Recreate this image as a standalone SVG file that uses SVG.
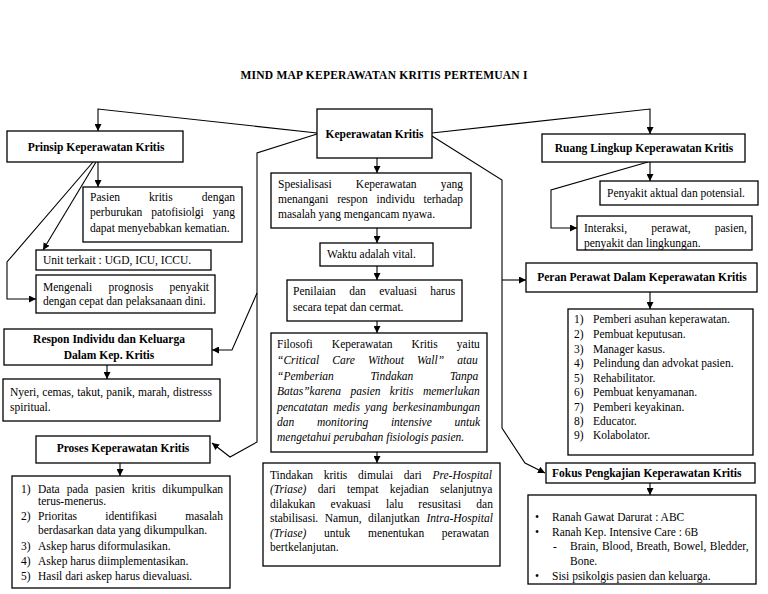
<svg xmlns="http://www.w3.org/2000/svg" width="768" height="594" viewBox="0 0 768 594">
<defs>
<style>
.box{fill:#fff;stroke:#000;stroke-width:1.3}
.c{fill:none;stroke:#000;stroke-width:1.1}
text{font-family:"Liberation Serif","Times New Roman",serif;font-size:11.5px;fill:#000}
.b{font-weight:bold}
.i{font-style:italic}
.m{text-anchor:middle}
</style>
<marker id="ah" viewBox="0 0 8 8" refX="8" refY="4" markerWidth="7" markerHeight="7" markerUnits="userSpaceOnUse" orient="auto">
<path d="M0,0 L8,4 L0,8 z" fill="#000"/>
</marker>
</defs>
<rect width="768" height="594" fill="#fff"/>
<text class="b m" x="384" y="79" textLength="287">MIND MAP KEPERAWATAN KRITIS PERTEMUAN I</text>

<g id="connectors">
<path class="c" d="M317,133 L98,109 L98,131" marker-end="url(#ah)"/>
<path class="c" d="M98,162 L98,187" marker-end="url(#ah)"/>
<path class="c" d="M96,162 L43,250" marker-end="url(#ah)"/>
<path class="c" d="M93,162 L7,262 L7,299 L36,299" marker-end="url(#ah)"/>
<path class="c" d="M317,134 L257,153 L257,442 L230,457 L212,443" marker-end="url(#ah)"/>
<path class="c" d="M257,293 L232,350 L212,350" marker-end="url(#ah)"/>
<path class="c" d="M107,365 L107,379" marker-end="url(#ah)"/>
<path class="c" d="M120,463 L120,476" marker-end="url(#ah)"/>
<path class="c" d="M377,158 L377,173" marker-end="url(#ah)"/>
<path class="c" d="M377,228 L377,243" marker-end="url(#ah)"/>
<path class="c" d="M377,266 L377,280" marker-end="url(#ah)"/>
<path class="c" d="M377,321 L377,333" marker-end="url(#ah)"/>
<path class="c" d="M377,452 L377,463" marker-end="url(#ah)"/>
<path class="c" d="M432,133 L650,109 L650,134" marker-end="url(#ah)"/>
<path class="c" d="M650,162 L650,181" marker-end="url(#ah)"/>
<path class="c" d="M648,162 L551,190 L551,228 L577,228" marker-end="url(#ah)"/>
<path class="c" d="M432,136 L502,180 L502,428 L525,463 L545,473" marker-end="url(#ah)"/>
<path class="c" d="M502,280 L526,280" marker-end="url(#ah)"/>
<path class="c" d="M650,292 L650,309" marker-end="url(#ah)"/>
<path class="c" d="M650,483 L650,495" marker-end="url(#ah)"/>
</g>

<g id="keperawatan-kritis">
<rect class="box" x="317" y="109" width="115" height="49"/>
<text class="b m" x="374.5" y="138">Keperawatan Kritis</text>
</g>

<g id="prinsip">
<rect class="box" x="7" y="131" width="176" height="31"/>
<text class="b m" x="96" y="151">Prinsip Keperawatan Kritis</text>
</g>

<g id="pasien-kritis">
<rect class="box" x="83" y="187" width="159" height="55"/>
<text x="90" y="201" style="word-spacing:26.2px">Pasien kritis dengan</text>
<text x="90" y="216" style="word-spacing:6.1px">perburukan patofisiolgi yang</text>
<text x="90" y="232">dapat menyebabkan kematian.</text>
</g>

<g id="unit-terkait">
<rect class="box" x="36" y="250" width="175" height="20"/>
<text x="43" y="264">Unit terkait : UGD, ICU, ICCU.</text>
</g>

<g id="mengenali">
<rect class="box" x="36" y="275" width="179" height="38"/>
<text x="43" y="291" style="word-spacing:13.4px">Mengenali prognosis penyakit</text>
<text x="43" y="305">dengan cepat dan pelaksanaan dini.</text>
</g>

<g id="respon">
<rect class="box" x="4" y="329" width="208" height="36"/>
<text class="b m" x="109" y="343">Respon Individu dan Keluarga</text>
<text class="b m" x="109" y="359">Dalam Kep. Kritis</text>
</g>

<g id="nyeri">
<rect class="box" x="3" y="379" width="217" height="42"/>
<text x="10" y="396" style="word-spacing:0.4px">Nyeri, cemas, takut, panik, marah, distresss</text>
<text x="10" y="411">spiritual.</text>
</g>

<g id="proses">
<rect class="box" x="36" y="436" width="174" height="27"/>
<text class="b m" x="123" y="452">Proses Keperawatan Kritis</text>
</g>

<g id="proses-list">
<rect class="box" x="12" y="476" width="218" height="112"/>
<text x="21" y="493">1)</text>
<text x="38" y="493" style="word-spacing:4.1px">Data pada pasien kritis dikumpulkan</text>
<text x="38" y="505">terus-menerus.</text>
<text x="21" y="520">2)</text>
<text x="38" y="520" style="word-spacing:25.4px">Prioritas identifikasi masalah</text>
<text x="38" y="534">berdasarkan data yang dikumpulkan.</text>
<text x="21" y="550">3)</text>
<text x="38" y="550">Askep harus diformulasikan.</text>
<text x="21" y="565">4)</text>
<text x="38" y="565">Askep harus diimplementasikan.</text>
<text x="21" y="580">5)</text>
<text x="38" y="580">Hasil dari askep harus dievaluasi.</text>
</g>

<g id="spesialisasi">
<rect class="box" x="271" y="173" width="200" height="55"/>
<text x="278" y="188" style="word-spacing:21.3px">Spesialisasi Keperawatan yang</text>
<text x="278" y="203" style="word-spacing:5.8px">menangani respon individu terhadap</text>
<text x="278" y="218">masalah yang mengancam nyawa.</text>
</g>

<g id="waktu">
<rect class="box" x="320" y="243" width="113" height="23"/>
<text x="327" y="258">Waktu adalah vital.</text>
</g>

<g id="penilaian">
<rect class="box" x="287" y="280" width="175" height="41"/>
<text x="293" y="295" style="word-spacing:10.5px">Penilaian dan evaluasi harus</text>
<text x="293" y="311">secara tepat dan cermat.</text>
</g>

<g id="filosofi">
<rect class="box" x="271" y="333" width="216" height="119"/>
<text x="277" y="348" style="word-spacing:16.2px">Filosofi Keperawatan Kritis yaitu</text>
<text class="i" x="277" y="364" style="word-spacing:10.3px">“Critical Care Without Wall” atau</text>
<text class="i" x="277" y="380" style="word-spacing:33.8px">“Pemberian Tindakan Tanpa</text>
<text class="i" x="277" y="395" style="word-spacing:6.5px">Batas”karena pasien kritis memerlukan</text>
<text class="i" x="277" y="411" style="word-spacing:2.2px">pencatatan medis yang berkesinambungan</text>
<text class="i" x="277" y="426" style="word-spacing:19.9px">dan monitoring intensive untuk</text>
<text class="i" x="277" y="441">mengetahui perubahan fisiologis pasien.</text>
</g>

<g id="tindakan">
<rect class="box" x="263" y="463" width="237" height="103"/>
<text x="270" y="479" style="word-spacing:7.8px">Tindakan kritis dimulai dari <tspan class="i">Pre-Hospital</tspan></text>
<text x="270" y="493" style="word-spacing:8.5px"><tspan class="i">(Triase)</tspan> dari tempat kejadian selanjutnya</text>
<text x="270" y="508" style="word-spacing:12.3px">dilakukan evakuasi lalu resusitasi dan</text>
<text x="270" y="522" style="word-spacing:3.7px">stabilisasi. Namun, dilanjutkan <tspan class="i">Intra-Hospital</tspan></text>
<text x="270" y="537" style="word-spacing:14.8px"><tspan class="i">(Triase)</tspan> untuk menentukan perawatan</text>
<text x="270" y="551">bertkelanjutan.</text>
</g>

<g id="ruang-lingkup">
<rect class="box" x="542" y="134" width="203" height="28"/>
<text class="b m" x="644" y="152">Ruang Lingkup Keperawatan Kritis</text>
</g>

<g id="penyakit">
<rect class="box" x="600" y="181" width="158" height="24"/>
<text x="607" y="197">Penyakit aktual dan potensial.</text>
</g>

<g id="interaksi">
<rect class="box" x="577" y="216" width="175" height="34"/>
<text x="584" y="232" style="word-spacing:21.3px">Interaksi, perawat, pasien,</text>
<text x="584" y="247">penyakit dan lingkungan.</text>
</g>

<g id="peran">
<rect class="box" x="526" y="263" width="231" height="29"/>
<text class="b m" x="642" y="281">Peran Perawat Dalam Keperawatan Kritis</text>
</g>

<g id="peran-list">
<rect class="box" x="568" y="309" width="185" height="146"/>
<text x="574" y="323">1)</text><text x="593" y="323">Pemberi asuhan keperawatan.</text>
<text x="574" y="338">2)</text><text x="593" y="338">Pembuat keputusan.</text>
<text x="574" y="353">3)</text><text x="593" y="353">Manager kasus.</text>
<text x="574" y="367">4)</text><text x="593" y="367">Pelindung dan advokat pasien.</text>
<text x="574" y="382">5)</text><text x="593" y="382">Rehabilitator.</text>
<text x="574" y="396">6)</text><text x="593" y="396">Pembuat kenyamanan.</text>
<text x="574" y="411">7)</text><text x="593" y="411">Pemberi keyakinan.</text>
<text x="574" y="425">8)</text><text x="593" y="425">Educator.</text>
<text x="574" y="439">9)</text><text x="593" y="439">Kolabolator.</text>
</g>

<g id="fokus">
<rect class="box" x="546" y="463" width="209" height="20"/>
<text class="b" x="552" y="477">Fokus Pengkajian Keperawatan Kritis</text>
</g>

<g id="fokus-list">
<rect class="box" x="528" y="495" width="228" height="89"/>
<text x="535" y="521">•</text><text x="552" y="521">Ranah Gawat Darurat : ABC</text>
<text x="535" y="536">•</text><text x="552" y="536">Ranah Kep. Intensive Care : 6B</text>
<text x="553" y="550">-</text><text x="570" y="550" style="word-spacing:0.6px">Brain, Blood, Breath, Bowel, Bledder,</text>
<text x="570" y="565">Bone.</text>
<text x="535" y="580">•</text><text x="552" y="580">Sisi psikolgis pasien dan keluarga.</text>
</g>
</svg>
